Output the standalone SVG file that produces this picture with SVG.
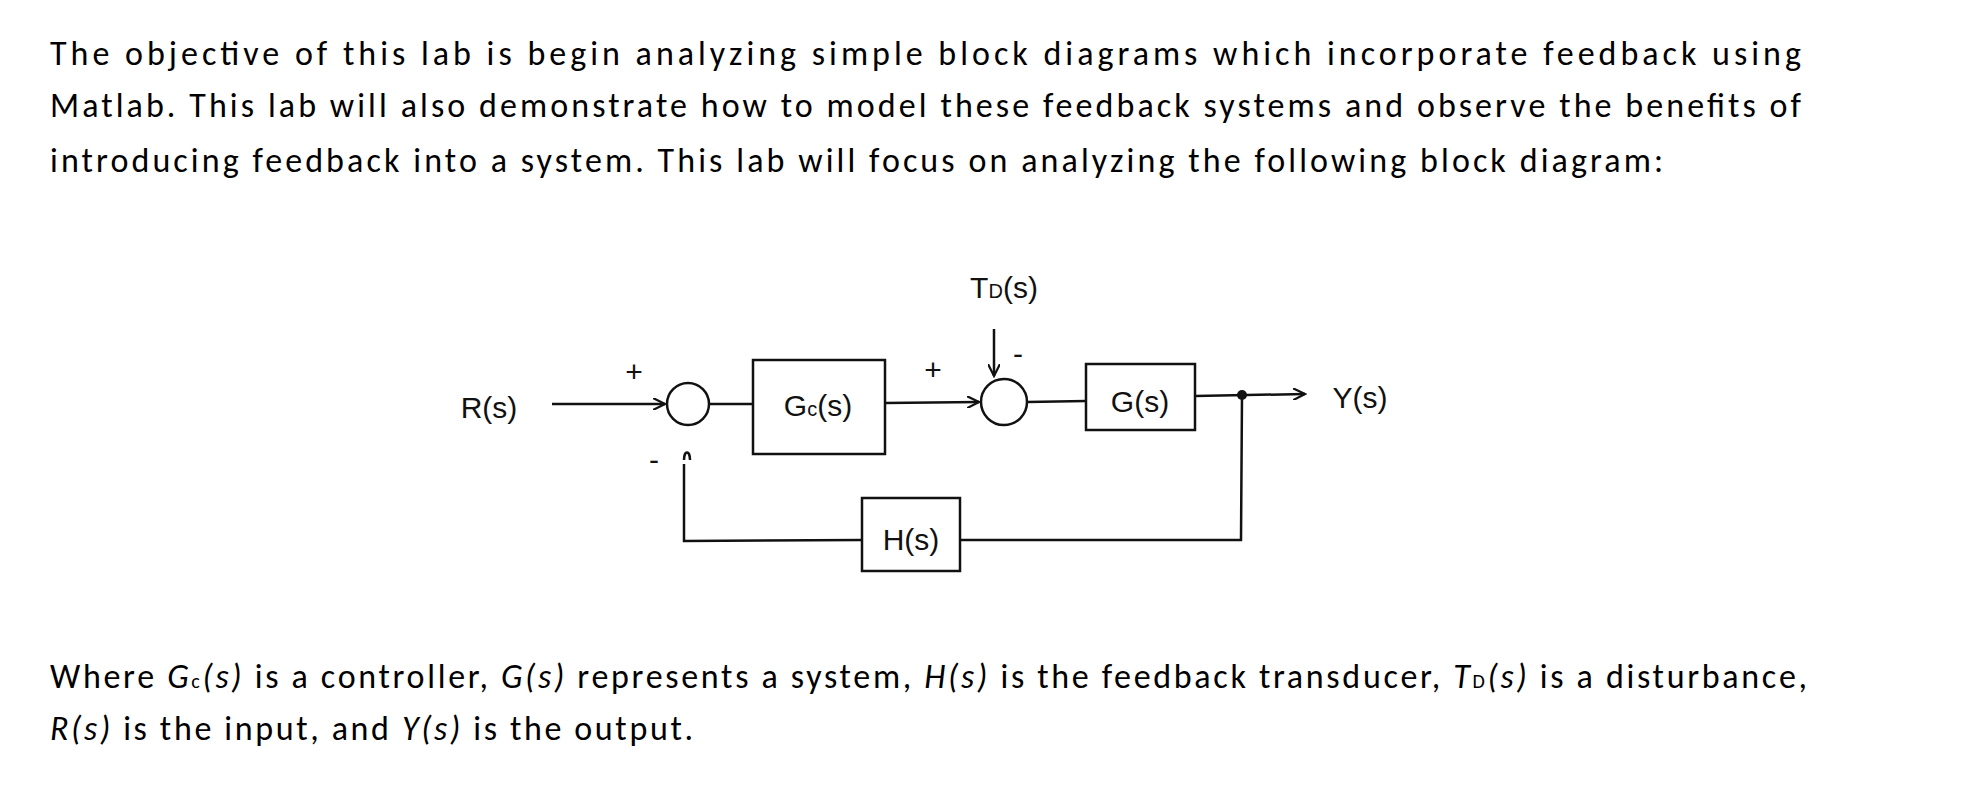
<svg xmlns="http://www.w3.org/2000/svg" width="1970" height="785" viewBox="0 0 1970 785">
<style>
.t{font-family:Carlito,"Liberation Sans",Arial,sans-serif;font-size:34px;fill:#000}
.h{font-family:"Liberation Sans",Arial,sans-serif;font-size:30px;fill:#111}
.ln{stroke:#111;stroke-width:2.5;fill:none}
</style>
<defs>
<marker id="a" markerWidth="14" markerHeight="12" refX="12" refY="6" orient="auto" markerUnits="userSpaceOnUse">
<path d="M0,0 L12,6 L0,12" fill="none" stroke="#111" stroke-width="2.2"/>
</marker>
</defs>
<rect width="1970" height="785" fill="#fff"/>
<text class="t" x="50" y="65" textLength="1751" lengthAdjust="spacing">The objective of this lab is begin analyzing simple block diagrams which incorporate feedback using</text>
<text class="t" x="50" y="117" textLength="1751" lengthAdjust="spacing">Matlab.  This lab will also demonstrate how to model these feedback systems and observe the benefits of</text>
<text class="t" x="50" y="172" textLength="1613" lengthAdjust="spacing">introducing feedback into a system.  This lab will focus on analyzing the following block diagram:</text>
<text class="t" x="50" y="688" textLength="1757" lengthAdjust="spacing">Where <tspan font-style="italic">G</tspan><tspan font-size="20">c</tspan><tspan font-style="italic">(s)</tspan> is a controller, <tspan font-style="italic">G(s)</tspan> represents a system, <tspan font-style="italic">H(s)</tspan> is the feedback transducer, <tspan font-style="italic">T</tspan><tspan font-size="20">D</tspan><tspan font-style="italic">(s)</tspan> is a disturbance,</text>
<text class="t" x="50" y="740" textLength="643" lengthAdjust="spacing"><tspan font-style="italic">R(s)</tspan> is the input, and <tspan font-style="italic">Y(s)</tspan> is the output.</text>
<g id="connectors">
<path class="ln" d="M552,404 L665,404" marker-end="url(#a)"/>
<path class="ln" d="M709,404 L753,404"/>
<path class="ln" d="M885,403 L979,402" marker-end="url(#a)"/>
<path class="ln" d="M994,329 L994,376" marker-end="url(#a)"/>
<path class="ln" d="M1027,402 L1086,401"/>
<path class="ln" d="M1195,396 L1305,394" marker-end="url(#a)"/>
<path class="ln" d="M1242,395 L1241,540 L960,540"/>
<path class="ln" d="M862,540 L684,541 L684,464"/>
<path class="ln" d="M684,460 C684,450 690,450 690,460" stroke-width="2"/>
<circle cx="1242" cy="395" r="5" fill="#111"/>
</g>
<g id="sum1"><circle class="ln" cx="688" cy="404" r="21"/><text class="h" x="634" y="382" text-anchor="middle">+</text><text class="h" x="654" y="470" text-anchor="middle">-</text></g>
<g id="sum2"><circle class="ln" cx="1004" cy="402" r="23"/><text class="h" x="933" y="380" text-anchor="middle">+</text><text class="h" x="1018" y="364" text-anchor="middle">-</text></g>
<g id="R"><text class="h" x="489" y="418" text-anchor="middle">R(s)</text></g>
<g id="Gc"><rect class="ln" x="753" y="360" width="132" height="94"/><text class="h" x="818" y="416" text-anchor="middle">G<tspan font-size="20">c</tspan>(s)</text></g>
<g id="Td"><text class="h" x="1004" y="298" text-anchor="middle">T<tspan font-size="20">D</tspan>(s)</text></g>
<g id="G"><rect class="ln" x="1086" y="364" width="109" height="66"/><text class="h" x="1140" y="412" text-anchor="middle">G(s)</text></g>
<g id="Y"><text class="h" x="1360" y="408" text-anchor="middle">Y(s)</text></g>
<g id="H"><rect class="ln" x="862" y="498" width="98" height="73"/><text class="h" x="911" y="550" text-anchor="middle">H(s)</text></g>
</svg>
